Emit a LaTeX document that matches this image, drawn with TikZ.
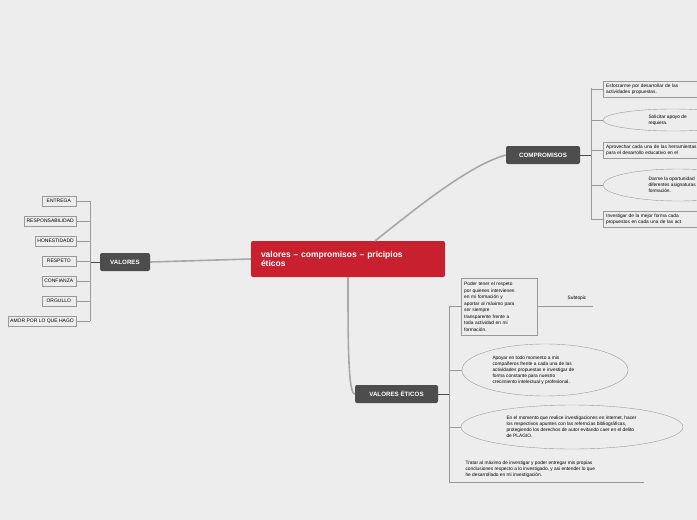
\documentclass[tikz,border=0pt]{standalone}
\usepackage{fontspec}
\setmainfont{Liberation Sans}
\usetikzlibrary{shapes.geometric}
\definecolor{bg}{HTML}{EDEDED}
\definecolor{redc}{HTML}{C8202F}
\definecolor{darkc}{HTML}{4D4D4D}
\definecolor{linec}{HTML}{A8A8A8}
\tikzset{
 central/.style={fill=redc,rounded corners=2pt,text=white,font=\fontsize{8.5}{9.5}\selectfont\bfseries,align=left,minimum width=194pt,minimum height=36pt,text width=174pt,inner sep=0pt},
 main/.style={fill=darkc,rounded corners=2pt,text=white,font=\fontsize{6.2}{7}\selectfont\bfseries,minimum height=18pt,inner xsep=7pt},
 leaf/.style={draw=gray!80,fill=bg,font=\fontsize{5}{6}\selectfont,inner sep=2pt,minimum height=10pt,minimum width=34pt},
 tbox/.style={draw=gray!80,fill=bg,font=\fontsize{4.8}{6}\selectfont,align=left,anchor=west,inner sep=3pt},
 ell/.style={draw=gray!80,fill=bg,ellipse,inner sep=0pt},
 txt/.style={font=\fontsize{4.8}{6}\selectfont,align=left},
 thick conn/.style={linec,line width=1.6pt},
 thin conn/.style={gray!80,line width=0.6pt},
}
\begin{document}
\begin{tikzpicture}[x=1pt,y=-1pt]
\clip (0,0) rectangle (697,520);
\fill[bg] (0,0) rectangle (697,520);
\node[central] (c) at (348,259) {valores – compromisos – pricipios\\éticos};
\node[main,minimum width=50pt] (v) at (125,262) {VALORES};
\node[main,minimum width=74pt] (co) at (543,155) {COMPROMISOS};
\node[main,minimum width=83pt] (ve) at (396.5,394) {VALORES ÉTICOS};
\coordinate (c1) at (375,241);
\coordinate (c2) at (348,277);
\draw[thick conn] (v.east) -- (c.west);
\draw[thick conn] (c1) .. controls (420,205) and (470,165) .. (co.west);
\draw[thick conn] (c2) .. controls (348,340) and (348,394) .. (ve.west);
\coordinate (vs) at (90,262);
\draw[darkc,line width=0.8pt] (v.west) -- (vs);
\foreach \n/\t/\y in {a/ENTREGA/201,b/RESPONSABILIDAD/221,d/HONESTIDADD/241,e/RESPETO/261,f/CONFIANZA/281,g/ORGULLO/301,h/AMOR POR LO QUE HAGO/321}{
 \node[leaf,anchor=east] (\n) at (76,\y) {\t};
 \draw[thin conn] (\n.east) -- (90,\y);
}
\draw[thin conn] (90,201) -- (90,321);
\coordinate (cs) at (591,155);
\draw[darkc,line width=0.8pt] (co.east) -- (cs);
\draw[thin conn] (591,88) -- (591,219);
\node[tbox,text width=120pt] (k1) at (603,89) {Esforzarme por desarrollar de las\\actividades propuestas.};
\node[ell,minimum width=140pt,minimum height=22pt] (k2) at (673,120) {};
\node[txt,anchor=west] at (645,120) {Solicitar apoyo de\\requiera.};
\node[tbox,text width=120pt] (k3) at (603,150) {Aprovechar cada una de las herramientas\\para el desarrollo educativo en el};
\node[ell,minimum width=150pt,minimum height=32pt] (k4) at (678,185) {};
\node[txt,anchor=west] at (645,185) {Darme la oportunidad\\diferentes asignaturas\\formación.};
\node[tbox,text width=120pt] (k5) at (603,219) {Investigar de la mejor forma cada\\propuestos en cada una de las act};
\foreach \y/\n in {89/k1,120/k2,150/k3,185/k4,219/k5}{\draw[thin conn] (591,\y) -- (\n.west);}
\coordinate (es) at (449,394);
\draw[darkc,line width=0.8pt] (ve.east) -- (es);
\draw[thin conn] (449,306) -- (449,482);
\node[draw=gray!80,fill=bg,font=\fontsize{4.8}{6.5}\selectfont,align=left,anchor=north west,text width=70pt,inner sep=3pt,minimum height=57pt,minimum width=76pt] (e1) at (461,278) {Poder tener el respeto\\por quienes intervienen\\en mi formación y\\aportar al máximo para\\ser siempre\\transparente frente a\\toda actividad en mi\\formación.};
\node[txt,anchor=south] (st) at (577,304) {Subtopic};
\coordinate (st2) at (593,306);
\draw[thin conn] (e1.east |- 0,306) -- (st2);
\node[ell,minimum width=166pt,minimum height=52pt] (e2) at (545,370) {};
\node[txt,anchor=west] at (489,370) {Apoyar en todo momento a mis\\compañeros frente a cada una de las\\actividades propuestas e investigar de\\forma constante para nuestro\\crecimiento intelectual y profesional.};
\node[ell,minimum width=222pt,minimum height=44pt] (e3) at (572,427) {};
\node[txt,anchor=west] at (503,427) {En el momento que realice investigaciones en internet, hacer\\los respectivos apuntes con las referncias bibliográficas,\\protegiendo los derechos de autor evitando caer en el delito\\de PLAGIO.};
\node[txt,anchor=west] (e4) at (462,469) {Tratar al máximo de investigar y poder entregar mis propias\\conclusiones respecto a lo investigado, y asi entender lo que\\he desarrollado en mi investigación.};
\coordinate (e4e) at (644,482);
\draw[thin conn] (449,306) -- (e1.west |- 0,306);
\draw[thin conn] (449,370) -- (e2.west);
\draw[thin conn] (449,427) -- (e3.west);
\draw[thin conn] (449,482) -- (e4e);
\end{tikzpicture}
\end{document}
